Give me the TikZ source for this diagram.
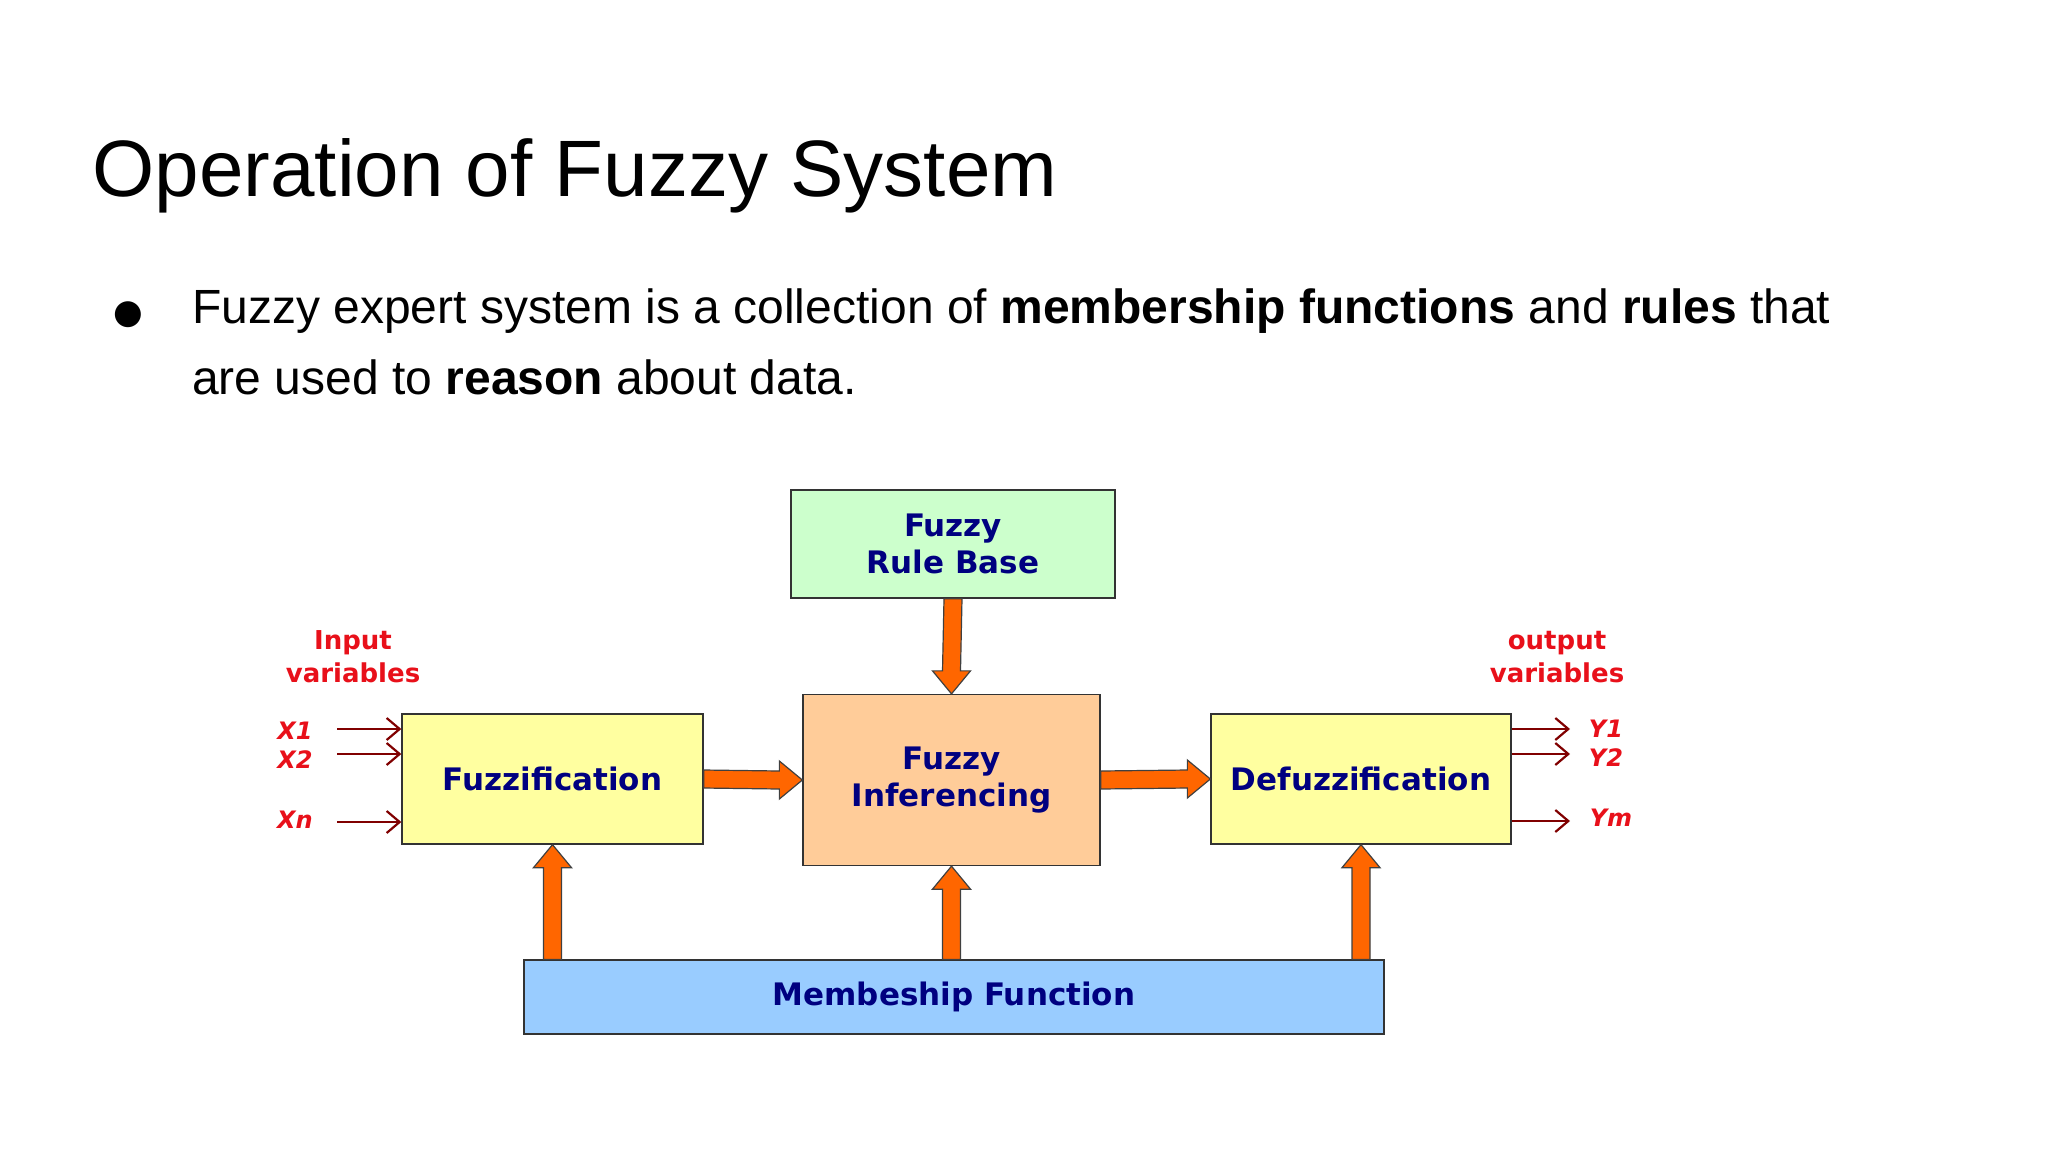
\documentclass[tikz,border=0pt]{standalone}
\usepackage{fontspec}
\setmainfont{Liberation Sans}
\newfontfamily\vd{DejaVu Sans}
\usetikzlibrary{calc}
\definecolor{navy}{HTML}{000080}
\definecolor{lred}{HTML}{E8101A}
\definecolor{dred}{HTML}{800000}
\definecolor{org}{HTML}{FF6600}
\tikzset{
 box/.style={draw=black!80, line width=1.3pt, font=\vd\bfseries\fontsize{31}{37}\selectfont, text=navy, align=center, inner sep=0pt},
 fatarr/.style={draw=black!75, line width=1.2pt, fill=org},
 thin/.style={draw=dred, line width=2.2pt, -{Straight Barb[length=13pt,width=22pt,line width=2.2pt]}},
 lab/.style={font=\vd\bfseries\fontsize{26}{33}\selectfont, text=lred, align=center},
 xlab/.style={font=\vd\bfseries\itshape\fontsize{24}{28}\selectfont, text=lred}
}
\usetikzlibrary{arrows.meta}
% fat arrows: shaft half width 9, head half width 19, head length 23
\newcommand\fatR[2]{\draw[fatarr] ($(#1)+(0,-9)$) -- ($(#2)+(-23,-9)$) -- ($(#2)+(-23,-19)$) -- (#2) -- ($(#2)+(-23,19)$) -- ($(#2)+(-23,9)$) -- ($(#1)+(0,9)$) -- cycle;}
\newcommand\fatV[3]{\draw[fatarr] ($(#1)+(-9,0)$) -- ($(#2)+(-9,#3)$) -- ($(#2)+(-19,#3)$) -- (#2) -- ($(#2)+(19,#3)$) -- ($(#2)+(9,#3)$) -- ($(#1)+(9,0)$) -- cycle;}
\begin{document}
\begin{tikzpicture}[x=1pt,y=-1pt]
\useasboundingbox (0,0) rectangle (2048,1152);
\node[anchor=base west, font=\fontsize{80}{96}\selectfont] (title) at (89,196) {Operation of Fuzzy System};
\node[anchor=base west, font=\vd\fontsize{34}{40}\selectfont] (bul) at (110,323) {●};
\node[anchor=base west, font=\fontsize{48}{58}\selectfont, inner sep=0pt] (l1) at (192,323) {Fuzzy expert system is a collection of \textbf{membership functions} and \textbf{rules} that};
\node[anchor=base west, font=\fontsize{48}{58}\selectfont, inner sep=0pt] (l2) at (192,394) {are used to \textbf{reason} about data.};

\node[box, fill={rgb,255:red,204;green,255;blue,204}, minimum width=324pt, minimum height=108pt] (rb) at (953,544) {Fuzzy\\Rule Base};
\node[box, fill={rgb,255:red,255;green,204;blue,153}, minimum width=297pt, minimum height=171pt] (inf) at (951.5,780) {Fuzzy\\Inferencing};
\node[box, fill={rgb,255:red,255;green,255;blue,160}, minimum width=301pt, minimum height=130pt] (fz) at (552.5,779) {Fuzzification};
\node[box, fill={rgb,255:red,255;green,255;blue,160}, minimum width=300pt, minimum height=130pt] (dfz) at (1361,779) {Defuzzification};
\node[box, fill={rgb,255:red,153;green,204;blue,255}, minimum width=860pt, minimum height=74pt] (mf) at (954,997) {Membeship Function};

\fatR{fz.east}{inf.west}
\fatR{inf.east}{dfz.west}
\fatV{rb.south}{inf.north}{-23}
\fatV{fz.south |- mf.north}{fz.south}{23}
\fatV{inf.south |- mf.north}{inf.south}{23}
\fatV{dfz.south |- mf.north}{dfz.south}{23}

\node[lab] (in) at (353,657) {Input\\variables};
\node[lab] (out) at (1557,657) {output\\variables};
\node[xlab] (x1) at (295,731) {X1};
\node[xlab] (x2) at (295,760) {X2};
\node[xlab] (xn) at (295,820) {Xn};
\coordinate (x1s) at (337,729); \coordinate (x2s) at (337,754); \coordinate (xns) at (337,822);
\draw[thin] (x1s) -- (x1s -| fz.west);
\draw[thin] (x2s) -- (x2s -| fz.west);
\draw[thin] (xns) -- (xns -| fz.west);
\node[xlab] (y1) at (1606,729) {Y1};
\node[xlab] (y2) at (1606,758) {Y2};
\node[xlab] (ym) at (1611,818) {Ym};
\coordinate (y1e) at (1570,729); \coordinate (y2e) at (1570,754); \coordinate (yme) at (1570,821);
\draw[thin] (y1e -| dfz.east) -- (y1e);
\draw[thin] (y2e -| dfz.east) -- (y2e);
\draw[thin] (yme -| dfz.east) -- (yme);
\end{tikzpicture}
\end{document}
